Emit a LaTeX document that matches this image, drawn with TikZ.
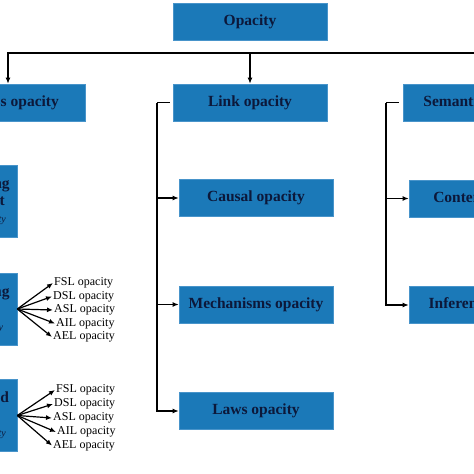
\documentclass[tikz,border=0pt]{standalone}
\usepackage{fontspec}
\setmainfont{Liberation Serif}
\usetikzlibrary{arrows.meta,positioning}
\definecolor{boxblue}{RGB}{27,121,184}
\definecolor{boxedge}{RGB}{72,148,202}
\definecolor{boxtext}{RGB}{12,24,58}

\begin{document}
\begin{tikzpicture}[x=1pt,y=-1pt,>={Latex[length=6pt,width=5pt]}, every node/.style={font=\fontsize{15.5}{17}\selectfont\bfseries}]
\tikzstyle{box}=[draw=boxedge,fill=boxblue,text=boxtext,align=center,minimum width=154pt,minimum height=37pt,inner sep=2pt,line width=0.6pt]
\tikzstyle{subbox}=[box,minimum width=72pt,minimum height=72pt]
\tikzstyle{lbl}=[font=\fontsize{12}{14}\selectfont,inner sep=1pt,anchor=west]
\tikzstyle{wire}=[line width=1.2pt]
\newcommand{\subnote}[1]{{\fontsize{10}{12}\selectfont\mdseries\itshape #1}}
\useasboundingbox (0,0) rectangle (474,474);
\clip (0,0) rectangle (474,474);
\fill[white] (0,0) rectangle (474,474);
% top levels
\node[box] (opac) at (250,22) {Opacity};
\node[box] (proc) at (8,102.5) {Process opacity};
\node[box] (link) at (250,102.5) {Link opacity};
\node[box] (sem) at (480,102.5) {Semantic opacity};
% link column
\node[box] (causal) at (256,198) {Causal opacity};
\node[box] (mech) at (256,304.5) {Mechanisms opacity};
\node[box] (laws) at (256,411) {Laws opacity};
% semantic column
\node[box] (cont) at (486,198.5) {Content opacity};
\node[box] (infer) at (486,305) {Inference opacity};
% process column
\node[subbox] (train) at (-19,201) {Training\\dataset\\\subnote{data opacity}};
\node[subbox,minimum width=76pt] (learn) at (-21,309) {Learning\\model\\\subnote{rule opacity}};
\node[subbox] (lrnd) at (-19,415.5) {Learned\\rules\\\subnote{data opacity}};
% fan labels
\node[lbl] (fsla) at (53,283) {FSL opacity};
\node[lbl] (dsla) at (52,296.5) {DSL opacity};
\node[lbl] (asla) at (53,310) {ASL opacity};
\node[lbl] (aila) at (55,323.5) {AIL opacity};
\node[lbl] (aela) at (52,337) {AEL opacity};
\node[lbl] (fslb) at (55,390) {FSL opacity};
\node[lbl] (dslb) at (53,404) {DSL opacity};
\node[lbl] (aslb) at (52,418) {ASL opacity};
\node[lbl] (ailb) at (56,432) {AIL opacity};
\node[lbl] (aelb) at (52,445.5) {AEL opacity};
\coordinate (bus) at (0,53);
\coordinate (lk) at (157,102.5);
\coordinate (sk) at (386,102.5);
% connectors
\draw[wire,->] (bus -| sem.north) -- (bus -| proc.north) -- (proc.north);
\draw[wire,->] (bus -| link.north) -- (link.north);
\draw[wire,->] (bus -| sem.north) -- (sem.north);
\draw[wire,shorten <=3pt] (link.west) -- (lk);
\draw[wire,->] (lk) |- (laws.west);
\draw[wire,->] (lk |- causal.west) -- (causal.west);
\draw[wire,->] (lk |- mech.west) -- (mech.west);
\draw[wire,shorten <=4pt] (sem.west) -- (sk);
\draw[wire,->] (sk) |- (infer.west);
\draw[wire,->] (sk |- cont.west) -- (cont.west);
\draw[wire,->] (learn.east) -- (fsla.west);
\draw[wire,->] (learn.east) -- (dsla.west);
\draw[wire,->] (learn.east) -- (asla.west);
\draw[wire,->] (learn.east) -- (aila.west);
\draw[wire,->] (learn.east) -- (aela.west);
\draw[wire,->] (lrnd.east) -- (fslb.west);
\draw[wire,->] (lrnd.east) -- (dslb.west);
\draw[wire,->] (lrnd.east) -- (aslb.west);
\draw[wire,->] (lrnd.east) -- (ailb.west);
\draw[wire,->] (lrnd.east) -- (aelb.west);
\end{tikzpicture}
\end{document}
